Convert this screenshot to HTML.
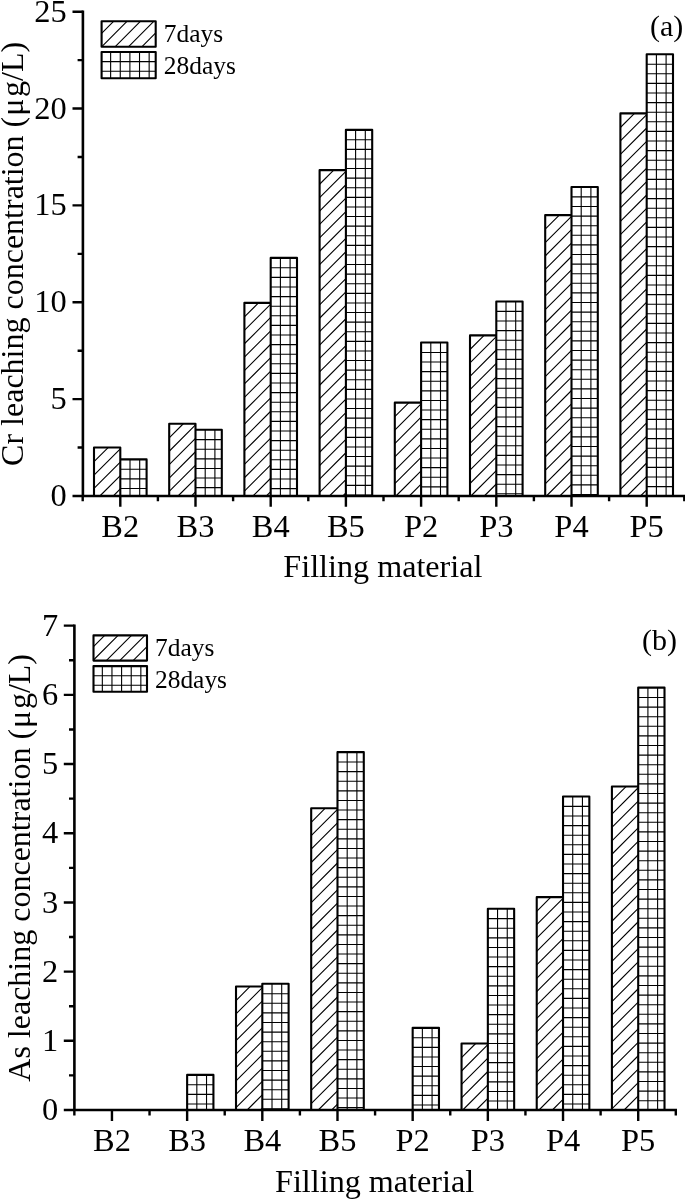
<!DOCTYPE html>
<html lang="en"><head><meta charset="utf-8"><title>Leaching concentration charts</title>
<style>
html,body{margin:0;padding:0;background:#fff}
body{width:685px;height:1199px;overflow:hidden}
svg{display:block}
text{font-family:'Liberation Serif', 'Times New Roman', serif;fill:#000}
.tl{font-size:32.2px}
.ti{font-size:32px}
.tx{font-size:32.15px}
.lg{font-size:25px}
.pl{font-size:30px}
.h{fill:none;stroke:#000;stroke-width:1.1}
.b{fill:none;stroke:#000;stroke-width:2.1;stroke-linejoin:round}
.a{fill:none;stroke:#000;stroke-width:2.6}
.t{fill:none;stroke:#000;stroke-width:2.4}
</style></head><body>
<svg width="685" height="1199" viewBox="0 0 685 1199">
<rect width="685" height="1199" fill="#fff"/>
<g>
<path class="h" d="M94 461.67L108.1 447.57M94 475.07L120.3 448.77M94 488.47L120.3 462.17M99.87 496L120.3 475.57M113.27 496L120.3 488.97M169.2 437.84L183.3 423.74M169.2 451.24L195.5 424.94M169.2 464.64L195.5 438.34M169.2 478.04L195.5 451.74M169.2 491.44L195.5 465.14M178.04 496L195.5 478.54M191.44 496L195.5 491.94M244.4 316.96L258.5 302.86M244.4 330.36L270.7 304.06M244.4 343.76L270.7 317.46M244.4 357.16L270.7 330.86M244.4 370.56L270.7 344.26M244.4 383.96L270.7 357.66M244.4 397.36L270.7 371.06M244.4 410.76L270.7 384.46M244.4 424.16L270.7 397.86M244.4 437.56L270.7 411.26M244.4 450.96L270.7 424.66M244.4 464.36L270.7 438.06M244.4 477.76L270.7 451.46M244.4 491.16L270.7 464.86M252.96 496L270.7 478.26M266.36 496L270.7 491.66M319.6 184.26L333.7 170.16M319.6 197.66L345.9 171.36M319.6 211.06L345.9 184.76M319.6 224.46L345.9 198.16M319.6 237.86L345.9 211.56M319.6 251.26L345.9 224.96M319.6 264.66L345.9 238.36M319.6 278.06L345.9 251.76M319.6 291.46L345.9 265.16M319.6 304.86L345.9 278.56M319.6 318.26L345.9 291.96M319.6 331.66L345.9 305.36M319.6 345.06L345.9 318.76M319.6 358.46L345.9 332.16M319.6 371.86L345.9 345.56M319.6 385.26L345.9 358.96M319.6 398.66L345.9 372.36M319.6 412.06L345.9 385.76M319.6 425.46L345.9 399.16M319.6 438.86L345.9 412.56M319.6 452.26L345.9 425.96M319.6 465.66L345.9 439.36M319.6 479.06L345.9 452.76M319.6 492.46L345.9 466.16M329.46 496L345.9 479.56M342.86 496L345.9 492.96M394.8 416.73L408.9 402.63M394.8 430.13L421.1 403.83M394.8 443.53L421.1 417.23M394.8 456.93L421.1 430.63M394.8 470.33L421.1 444.03M394.8 483.73L421.1 457.43M395.93 496L421.1 470.83M409.33 496L421.1 484.23M470 349.51L484.1 335.41M470 362.91L496.3 336.61M470 376.31L496.3 350.01M470 389.71L496.3 363.41M470 403.11L496.3 376.81M470 416.51L496.3 390.21M470 429.91L496.3 403.61M470 443.31L496.3 417.01M470 456.71L496.3 430.41M470 470.11L496.3 443.81M470 483.51L496.3 457.21M470.91 496L496.3 470.61M484.31 496L496.3 484.01M545.2 229.21L559.3 215.11M545.2 242.61L571.5 216.31M545.2 256.01L571.5 229.71M545.2 269.41L571.5 243.11M545.2 282.81L571.5 256.51M545.2 296.21L571.5 269.91M545.2 309.61L571.5 283.31M545.2 323.01L571.5 296.71M545.2 336.41L571.5 310.11M545.2 349.81L571.5 323.51M545.2 363.21L571.5 336.91M545.2 376.61L571.5 350.31M545.2 390.01L571.5 363.71M545.2 403.41L571.5 377.11M545.2 416.81L571.5 390.51M545.2 430.21L571.5 403.91M545.2 443.61L571.5 417.31M545.2 457.01L571.5 430.71M545.2 470.41L571.5 444.11M545.2 483.81L571.5 457.51M546.41 496L571.5 470.91M559.81 496L571.5 484.31M620.4 127.5L634.5 113.4M620.4 140.9L646.7 114.6M620.4 154.3L646.7 128M620.4 167.7L646.7 141.4M620.4 181.1L646.7 154.8M620.4 194.5L646.7 168.2M620.4 207.9L646.7 181.6M620.4 221.3L646.7 195M620.4 234.7L646.7 208.4M620.4 248.1L646.7 221.8M620.4 261.5L646.7 235.2M620.4 274.9L646.7 248.6M620.4 288.3L646.7 262M620.4 301.7L646.7 275.4M620.4 315.1L646.7 288.8M620.4 328.5L646.7 302.2M620.4 341.9L646.7 315.6M620.4 355.3L646.7 329M620.4 368.7L646.7 342.4M620.4 382.1L646.7 355.8M620.4 395.5L646.7 369.2M620.4 408.9L646.7 382.6M620.4 422.3L646.7 396M620.4 435.7L646.7 409.4M620.4 449.1L646.7 422.8M620.4 462.5L646.7 436.2M620.4 475.9L646.7 449.6M620.4 489.3L646.7 463M627.1 496L646.7 476.4M640.5 496L646.7 489.8M101.6 33.4L113.8 21.2M101.6 46.8L127.2 21.2M115 46.8L140.6 21.2M128.4 46.8L154 21.2M141.8 46.8L155.7 32.9M155.2 46.8L155.7 46.3M130 459.39V496M139.7 459.39V496M120.3 469.29H146.6M120.3 478.89H146.6M120.3 488.49H146.6M205.2 429.75V496M214.9 429.75V496M195.5 439.65H221.8M195.5 449.25H221.8M195.5 458.85H221.8M195.5 468.45H221.8M195.5 478.05H221.8M195.5 487.65H221.8M280.4 257.92V496M290.1 257.92V496M270.7 267.82H297M270.7 277.42H297M270.7 287.02H297M270.7 296.62H297M270.7 306.22H297M270.7 315.82H297M270.7 325.42H297M270.7 335.02H297M270.7 344.62H297M270.7 354.22H297M270.7 363.82H297M270.7 373.42H297M270.7 383.02H297M270.7 392.62H297M270.7 402.22H297M270.7 411.82H297M270.7 421.42H297M270.7 431.02H297M270.7 440.62H297M270.7 450.22H297M270.7 459.82H297M270.7 469.42H297M270.7 479.02H297M270.7 488.62H297M355.6 129.87V496M365.3 129.87V496M345.9 139.77H372.2M345.9 149.37H372.2M345.9 158.97H372.2M345.9 168.57H372.2M345.9 178.17H372.2M345.9 187.77H372.2M345.9 197.37H372.2M345.9 206.97H372.2M345.9 216.57H372.2M345.9 226.17H372.2M345.9 235.77H372.2M345.9 245.37H372.2M345.9 254.97H372.2M345.9 264.57H372.2M345.9 274.17H372.2M345.9 283.77H372.2M345.9 293.37H372.2M345.9 302.97H372.2M345.9 312.57H372.2M345.9 322.17H372.2M345.9 331.77H372.2M345.9 341.37H372.2M345.9 350.97H372.2M345.9 360.57H372.2M345.9 370.17H372.2M345.9 379.77H372.2M345.9 389.37H372.2M345.9 398.97H372.2M345.9 408.57H372.2M345.9 418.17H372.2M345.9 427.77H372.2M345.9 437.37H372.2M345.9 446.97H372.2M345.9 456.57H372.2M345.9 466.17H372.2M345.9 475.77H372.2M345.9 485.37H372.2M345.9 494.97H372.2M430.8 342.57V496M440.5 342.57V496M421.1 352.47H447.4M421.1 362.07H447.4M421.1 371.67H447.4M421.1 381.27H447.4M421.1 390.87H447.4M421.1 400.47H447.4M421.1 410.07H447.4M421.1 419.67H447.4M421.1 429.27H447.4M421.1 438.87H447.4M421.1 448.47H447.4M421.1 458.07H447.4M421.1 467.67H447.4M421.1 477.27H447.4M421.1 486.87H447.4M506 301.51V496M515.7 301.51V496M496.3 311.41H522.6M496.3 321.01H522.6M496.3 330.61H522.6M496.3 340.21H522.6M496.3 349.81H522.6M496.3 359.41H522.6M496.3 369.01H522.6M496.3 378.61H522.6M496.3 388.21H522.6M496.3 397.81H522.6M496.3 407.41H522.6M496.3 417.01H522.6M496.3 426.61H522.6M496.3 436.21H522.6M496.3 445.81H522.6M496.3 455.41H522.6M496.3 465.01H522.6M496.3 474.61H522.6M496.3 484.21H522.6M496.3 493.81H522.6M581.2 187.02V496M590.9 187.02V496M571.5 196.92H597.8M571.5 206.52H597.8M571.5 216.12H597.8M571.5 225.72H597.8M571.5 235.32H597.8M571.5 244.92H597.8M571.5 254.52H597.8M571.5 264.12H597.8M571.5 273.72H597.8M571.5 283.32H597.8M571.5 292.92H597.8M571.5 302.52H597.8M571.5 312.12H597.8M571.5 321.72H597.8M571.5 331.32H597.8M571.5 340.92H597.8M571.5 350.52H597.8M571.5 360.12H597.8M571.5 369.72H597.8M571.5 379.32H597.8M571.5 388.92H597.8M571.5 398.52H597.8M571.5 408.12H597.8M571.5 417.72H597.8M571.5 427.32H597.8M571.5 436.92H597.8M571.5 446.52H597.8M571.5 456.12H597.8M571.5 465.72H597.8M571.5 475.32H597.8M571.5 484.92H597.8M571.5 494.52H597.8M656.4 54.32V496M666.1 54.32V496M646.7 64.22H673M646.7 73.82H673M646.7 83.42H673M646.7 93.02H673M646.7 102.62H673M646.7 112.22H673M646.7 121.82H673M646.7 131.42H673M646.7 141.02H673M646.7 150.62H673M646.7 160.22H673M646.7 169.82H673M646.7 179.42H673M646.7 189.02H673M646.7 198.62H673M646.7 208.22H673M646.7 217.82H673M646.7 227.42H673M646.7 237.02H673M646.7 246.62H673M646.7 256.22H673M646.7 265.82H673M646.7 275.42H673M646.7 285.02H673M646.7 294.62H673M646.7 304.22H673M646.7 313.82H673M646.7 323.42H673M646.7 333.02H673M646.7 342.62H673M646.7 352.22H673M646.7 361.82H673M646.7 371.42H673M646.7 381.02H673M646.7 390.62H673M646.7 400.22H673M646.7 409.82H673M646.7 419.42H673M646.7 429.02H673M646.7 438.62H673M646.7 448.22H673M646.7 457.82H673M646.7 467.42H673M646.7 477.02H673M646.7 486.62H673M110.63 52V78.2M120.26 52V78.2M129.89 52V78.2M139.52 52V78.2M149.15 52V78.2M101.6 61.6H155.7M101.6 71.2H155.7"/>
<path class="b" d="M94 496V447.57H120.3V496M120.3 496V459.39H146.6V496M169.2 496V423.74H195.5V496M195.5 496V429.75H221.8V496M244.4 496V302.86H270.7V496M270.7 496V257.92H297V496M319.6 496V170.16H345.9V496M345.9 496V129.87H372.2V496M394.8 496V402.63H421.1V496M421.1 496V342.57H447.4V496M470 496V335.41H496.3V496M496.3 496V301.51H522.6V496M545.2 496V215.11H571.5V496M571.5 496V187.02H597.8V496M620.4 496V113.4H646.7V496M646.7 496V54.32H673V496M101.6 21.2H155.7V46.8H101.6ZM101.6 52H155.7V78.2H101.6Z"/>
<path class="a" d="M82.9 10.6V496M72.5 496H686"/>
<path class="t" d="M77.6 447.57H82.9M72.5 399.14H82.9M77.6 350.71H82.9M72.5 302.28H82.9M77.6 253.85H82.9M72.5 205.42H82.9M77.6 156.99H82.9M72.5 108.56H82.9M77.6 60.13H82.9M72.5 11.7H82.9M120.3 496V506.8M82.7 496V501.3M195.5 496V506.8M157.9 496V501.3M270.7 496V506.8M233.1 496V501.3M345.9 496V506.8M308.3 496V501.3M421.1 496V506.8M383.5 496V501.3M496.3 496V506.8M458.7 496V501.3M571.5 496V506.8M533.9 496V501.3M646.7 496V506.8M609.1 496V501.3M684.3 496V501.3"/>
<text class="tl" text-anchor="end" transform="translate(66.8 506) scale(1.008 1)">0</text>
<text class="tl" text-anchor="end" transform="translate(66.8 409.14) scale(1.008 1)">5</text>
<text class="tl" text-anchor="end" transform="translate(66.8 312.28) scale(1.008 1)">10</text>
<text class="tl" text-anchor="end" transform="translate(66.8 215.42) scale(1.008 1)">15</text>
<text class="tl" text-anchor="end" transform="translate(66.8 118.56) scale(1.008 1)">20</text>
<text class="tl" text-anchor="end" transform="translate(66.8 21.7) scale(1.008 1)">25</text>
<text class="tl" text-anchor="middle" transform="translate(120.3 537) scale(1.008 1)">B2</text>
<text class="tl" text-anchor="middle" transform="translate(195.5 537) scale(1.008 1)">B3</text>
<text class="tl" text-anchor="middle" transform="translate(270.7 537) scale(1.008 1)">B4</text>
<text class="tl" text-anchor="middle" transform="translate(345.9 537) scale(1.008 1)">B5</text>
<text class="tl" text-anchor="middle" transform="translate(421.1 537) scale(1.008 1)">P2</text>
<text class="tl" text-anchor="middle" transform="translate(496.3 537) scale(1.008 1)">P3</text>
<text class="tl" text-anchor="middle" transform="translate(571.5 537) scale(1.008 1)">P4</text>
<text class="tl" text-anchor="middle" transform="translate(646.7 537) scale(1.008 1)">P5</text>
<text class="tx" text-anchor="middle" x="382.9" y="577.4">Filling material</text>
<text class="ti" text-anchor="middle" transform="translate(22.6 253.85) rotate(-90)">Cr leaching concentration (<tspan dx="1">μ</tspan><tspan dx="1.7">g/L)</tspan></text>
<text class="pl" x="650" y="35.9">(a)</text>
<text class="lg" transform="translate(163.8 42.4) scale(1.017 1)">7days</text>
<text class="lg" transform="translate(163.8 73.8) scale(1.017 1)">28days</text>
</g>
<g>
<path class="h" d="M236.01 1000.53L250.11 986.43M236.01 1013.93L262.31 987.63M236.01 1027.33L262.31 1001.03M236.01 1040.73L262.31 1014.43M236.01 1054.13L262.31 1027.83M236.01 1067.53L262.31 1041.23M236.01 1080.93L262.31 1054.63M236.01 1094.33L262.31 1068.03M236.01 1107.73L262.31 1081.43M247.14 1110L262.31 1094.83M260.54 1110L262.31 1108.23M311.19 822.29L325.29 808.19M311.19 835.69L337.49 809.39M311.19 849.09L337.49 822.79M311.19 862.49L337.49 836.19M311.19 875.89L337.49 849.59M311.19 889.29L337.49 862.99M311.19 902.69L337.49 876.39M311.19 916.09L337.49 889.79M311.19 929.49L337.49 903.19M311.19 942.89L337.49 916.59M311.19 956.29L337.49 929.99M311.19 969.69L337.49 943.39M311.19 983.09L337.49 956.79M311.19 996.49L337.49 970.19M311.19 1009.89L337.49 983.59M311.19 1023.29L337.49 996.99M311.19 1036.69L337.49 1010.39M311.19 1050.09L337.49 1023.79M311.19 1063.49L337.49 1037.19M311.19 1076.89L337.49 1050.59M311.19 1090.29L337.49 1063.99M311.19 1103.69L337.49 1077.39M318.28 1110L337.49 1090.79M331.68 1110L337.49 1104.19M461.55 1057.61L475.65 1043.51M461.55 1071.01L487.85 1044.71M461.55 1084.41L487.85 1058.11M461.55 1097.81L487.85 1071.51M462.76 1110L487.85 1084.91M476.16 1110L487.85 1098.31M536.73 911.27L550.83 897.17M536.73 924.67L563.03 898.37M536.73 938.07L563.03 911.77M536.73 951.47L563.03 925.17M536.73 964.87L563.03 938.57M536.73 978.27L563.03 951.97M536.73 991.67L563.03 965.37M536.73 1005.07L563.03 978.77M536.73 1018.47L563.03 992.17M536.73 1031.87L563.03 1005.57M536.73 1045.27L563.03 1018.97M536.73 1058.67L563.03 1032.37M536.73 1072.07L563.03 1045.77M536.73 1085.47L563.03 1059.17M536.73 1098.87L563.03 1072.57M539 1110L563.03 1085.97M552.4 1110L563.03 1099.37M611.91 800.64L626.01 786.54M611.91 814.04L638.21 787.74M611.91 827.44L638.21 801.14M611.91 840.84L638.21 814.54M611.91 854.24L638.21 827.94M611.91 867.64L638.21 841.34M611.91 881.04L638.21 854.74M611.91 894.44L638.21 868.14M611.91 907.84L638.21 881.54M611.91 921.24L638.21 894.94M611.91 934.64L638.21 908.34M611.91 948.04L638.21 921.74M611.91 961.44L638.21 935.14M611.91 974.84L638.21 948.54M611.91 988.24L638.21 961.94M611.91 1001.64L638.21 975.34M611.91 1015.04L638.21 988.74M611.91 1028.44L638.21 1002.14M611.91 1041.84L638.21 1015.54M611.91 1055.24L638.21 1028.94M611.91 1068.64L638.21 1042.34M611.91 1082.04L638.21 1055.74M611.91 1095.44L638.21 1069.14M611.91 1108.84L638.21 1082.54M624.15 1110L638.21 1095.94M637.55 1110L638.21 1109.34M93.5 646.6L104.7 635.4M93.5 660L118.1 635.4M106.3 660.6L131.5 635.4M119.7 660.6L144.9 635.4M133.1 660.6L147 646.7M146.5 660.6L147 660.1M196.83 1074.92V1110M206.53 1074.92V1110M187.13 1084.82H213.43M187.13 1094.42H213.43M187.13 1104.02H213.43M272.01 983.8V1110M281.71 983.8V1110M262.31 993.7H288.61M262.31 1003.3H288.61M262.31 1012.9H288.61M262.31 1022.5H288.61M262.31 1032.1H288.61M262.31 1041.7H288.61M262.31 1051.3H288.61M262.31 1060.9H288.61M262.31 1070.5H288.61M262.31 1080.1H288.61M262.31 1089.7H288.61M262.31 1099.3H288.61M262.31 1108.9H288.61M347.19 752.15V1110M356.89 752.15V1110M337.49 762.05H363.79M337.49 771.65H363.79M337.49 781.25H363.79M337.49 790.85H363.79M337.49 800.45H363.79M337.49 810.05H363.79M337.49 819.65H363.79M337.49 829.25H363.79M337.49 838.85H363.79M337.49 848.45H363.79M337.49 858.05H363.79M337.49 867.65H363.79M337.49 877.25H363.79M337.49 886.85H363.79M337.49 896.45H363.79M337.49 906.05H363.79M337.49 915.65H363.79M337.49 925.25H363.79M337.49 934.85H363.79M337.49 944.45H363.79M337.49 954.05H363.79M337.49 963.65H363.79M337.49 973.25H363.79M337.49 982.85H363.79M337.49 992.45H363.79M337.49 1002.05H363.79M337.49 1011.65H363.79M337.49 1021.25H363.79M337.49 1030.85H363.79M337.49 1040.45H363.79M337.49 1050.05H363.79M337.49 1059.65H363.79M337.49 1069.25H363.79M337.49 1078.85H363.79M337.49 1088.45H363.79M337.49 1098.05H363.79M337.49 1107.65H363.79M422.37 1027.87V1110M432.07 1027.87V1110M412.67 1037.77H438.97M412.67 1047.37H438.97M412.67 1056.97H438.97M412.67 1066.57H438.97M412.67 1076.17H438.97M412.67 1085.77H438.97M412.67 1095.37H438.97M412.67 1104.97H438.97M497.55 908.73V1110M507.25 908.73V1110M487.85 918.63H514.15M487.85 928.23H514.15M487.85 937.83H514.15M487.85 947.43H514.15M487.85 957.03H514.15M487.85 966.63H514.15M487.85 976.23H514.15M487.85 985.83H514.15M487.85 995.43H514.15M487.85 1005.03H514.15M487.85 1014.63H514.15M487.85 1024.23H514.15M487.85 1033.83H514.15M487.85 1043.43H514.15M487.85 1053.03H514.15M487.85 1062.63H514.15M487.85 1072.23H514.15M487.85 1081.83H514.15M487.85 1091.43H514.15M487.85 1101.03H514.15M572.73 796.5V1110M582.43 796.5V1110M563.03 806.4H589.33M563.03 816H589.33M563.03 825.6H589.33M563.03 835.2H589.33M563.03 844.8H589.33M563.03 854.4H589.33M563.03 864H589.33M563.03 873.6H589.33M563.03 883.2H589.33M563.03 892.8H589.33M563.03 902.4H589.33M563.03 912H589.33M563.03 921.6H589.33M563.03 931.2H589.33M563.03 940.8H589.33M563.03 950.4H589.33M563.03 960H589.33M563.03 969.6H589.33M563.03 979.2H589.33M563.03 988.8H589.33M563.03 998.4H589.33M563.03 1008H589.33M563.03 1017.6H589.33M563.03 1027.2H589.33M563.03 1036.8H589.33M563.03 1046.4H589.33M563.03 1056H589.33M563.03 1065.6H589.33M563.03 1075.2H589.33M563.03 1084.8H589.33M563.03 1094.4H589.33M563.03 1104H589.33M647.91 687.6V1110M657.61 687.6V1110M638.21 697.5H664.51M638.21 707.1H664.51M638.21 716.7H664.51M638.21 726.3H664.51M638.21 735.9H664.51M638.21 745.5H664.51M638.21 755.1H664.51M638.21 764.7H664.51M638.21 774.3H664.51M638.21 783.9H664.51M638.21 793.5H664.51M638.21 803.1H664.51M638.21 812.7H664.51M638.21 822.3H664.51M638.21 831.9H664.51M638.21 841.5H664.51M638.21 851.1H664.51M638.21 860.7H664.51M638.21 870.3H664.51M638.21 879.9H664.51M638.21 889.5H664.51M638.21 899.1H664.51M638.21 908.7H664.51M638.21 918.3H664.51M638.21 927.9H664.51M638.21 937.5H664.51M638.21 947.1H664.51M638.21 956.7H664.51M638.21 966.3H664.51M638.21 975.9H664.51M638.21 985.5H664.51M638.21 995.1H664.51M638.21 1004.7H664.51M638.21 1014.3H664.51M638.21 1023.9H664.51M638.21 1033.5H664.51M638.21 1043.1H664.51M638.21 1052.7H664.51M638.21 1062.3H664.51M638.21 1071.9H664.51M638.21 1081.5H664.51M638.21 1091.1H664.51M638.21 1100.7H664.51M102.33 666.1V691.7M111.96 666.1V691.7M121.59 666.1V691.7M131.22 666.1V691.7M140.85 666.1V691.7M93.5 675.7H147M93.5 685.3H147"/>
<path class="b" d="M187.13 1110V1074.92H213.43V1110M236.01 1110V986.43H262.31V1110M262.31 1110V983.8H288.61V1110M311.19 1110V808.19H337.49V1110M337.49 1110V752.15H363.79V1110M412.67 1110V1027.87H438.97V1110M461.55 1110V1043.51H487.85V1110M487.85 1110V908.73H514.15V1110M536.73 1110V897.17H563.03V1110M563.03 1110V796.5H589.33V1110M611.91 1110V786.54H638.21V1110M638.21 1110V687.6H664.51V1110M93.5 635.4H147V660.6H93.5ZM93.5 666.1H147V691.7H93.5Z"/>
<path class="a" d="M74.4 624.6V1110M63.8 1110H677"/>
<path class="t" d="M69 1075.4H74.4M63.8 1040.81H74.4M69 1006.21H74.4M63.8 971.62H74.4M69 937.02H74.4M63.8 902.43H74.4M69 867.84H74.4M63.8 833.24H74.4M69 798.64H74.4M63.8 764.05H74.4M69 729.45H74.4M63.8 694.86H74.4M69 660.26H74.4M63.8 625.67H74.4M111.95 1110V1121M74.36 1110V1115.4M187.13 1110V1121M149.54 1110V1115.4M262.31 1110V1121M224.72 1110V1115.4M337.49 1110V1121M299.9 1110V1115.4M412.67 1110V1121M375.08 1110V1115.4M487.85 1110V1121M450.26 1110V1115.4M563.03 1110V1121M525.44 1110V1115.4M638.21 1110V1121M600.62 1110V1115.4M675.8 1110V1115.4"/>
<text class="tl" text-anchor="end" transform="translate(58.3 1120.1) scale(1.008 1)">0</text>
<text class="tl" text-anchor="end" transform="translate(58.3 1050.91) scale(1.008 1)">1</text>
<text class="tl" text-anchor="end" transform="translate(58.3 981.72) scale(1.008 1)">2</text>
<text class="tl" text-anchor="end" transform="translate(58.3 912.53) scale(1.008 1)">3</text>
<text class="tl" text-anchor="end" transform="translate(58.3 843.34) scale(1.008 1)">4</text>
<text class="tl" text-anchor="end" transform="translate(58.3 774.15) scale(1.008 1)">5</text>
<text class="tl" text-anchor="end" transform="translate(58.3 704.96) scale(1.008 1)">6</text>
<text class="tl" text-anchor="end" transform="translate(58.3 635.77) scale(1.008 1)">7</text>
<text class="tl" text-anchor="middle" transform="translate(111.95 1151) scale(1.008 1)">B2</text>
<text class="tl" text-anchor="middle" transform="translate(187.13 1151) scale(1.008 1)">B3</text>
<text class="tl" text-anchor="middle" transform="translate(262.31 1151) scale(1.008 1)">B4</text>
<text class="tl" text-anchor="middle" transform="translate(337.49 1151) scale(1.008 1)">B5</text>
<text class="tl" text-anchor="middle" transform="translate(412.67 1151) scale(1.008 1)">P2</text>
<text class="tl" text-anchor="middle" transform="translate(487.85 1151) scale(1.008 1)">P3</text>
<text class="tl" text-anchor="middle" transform="translate(563.03 1151) scale(1.008 1)">P4</text>
<text class="tl" text-anchor="middle" transform="translate(638.21 1151) scale(1.008 1)">P5</text>
<text class="tx" text-anchor="middle" x="374.6" y="1192">Filling material</text>
<text class="ti" text-anchor="middle" transform="translate(29.6 867.85) rotate(-90)">As leaching concentration (<tspan dx="1">μ</tspan><tspan dx="1.7">g/L)</tspan></text>
<text class="pl" x="642" y="650">(b)</text>
<text class="lg" transform="translate(155 656.1) scale(1.017 1)">7days</text>
<text class="lg" transform="translate(155 687.5) scale(1.017 1)">28days</text>
</g>
</svg>
</body></html>
